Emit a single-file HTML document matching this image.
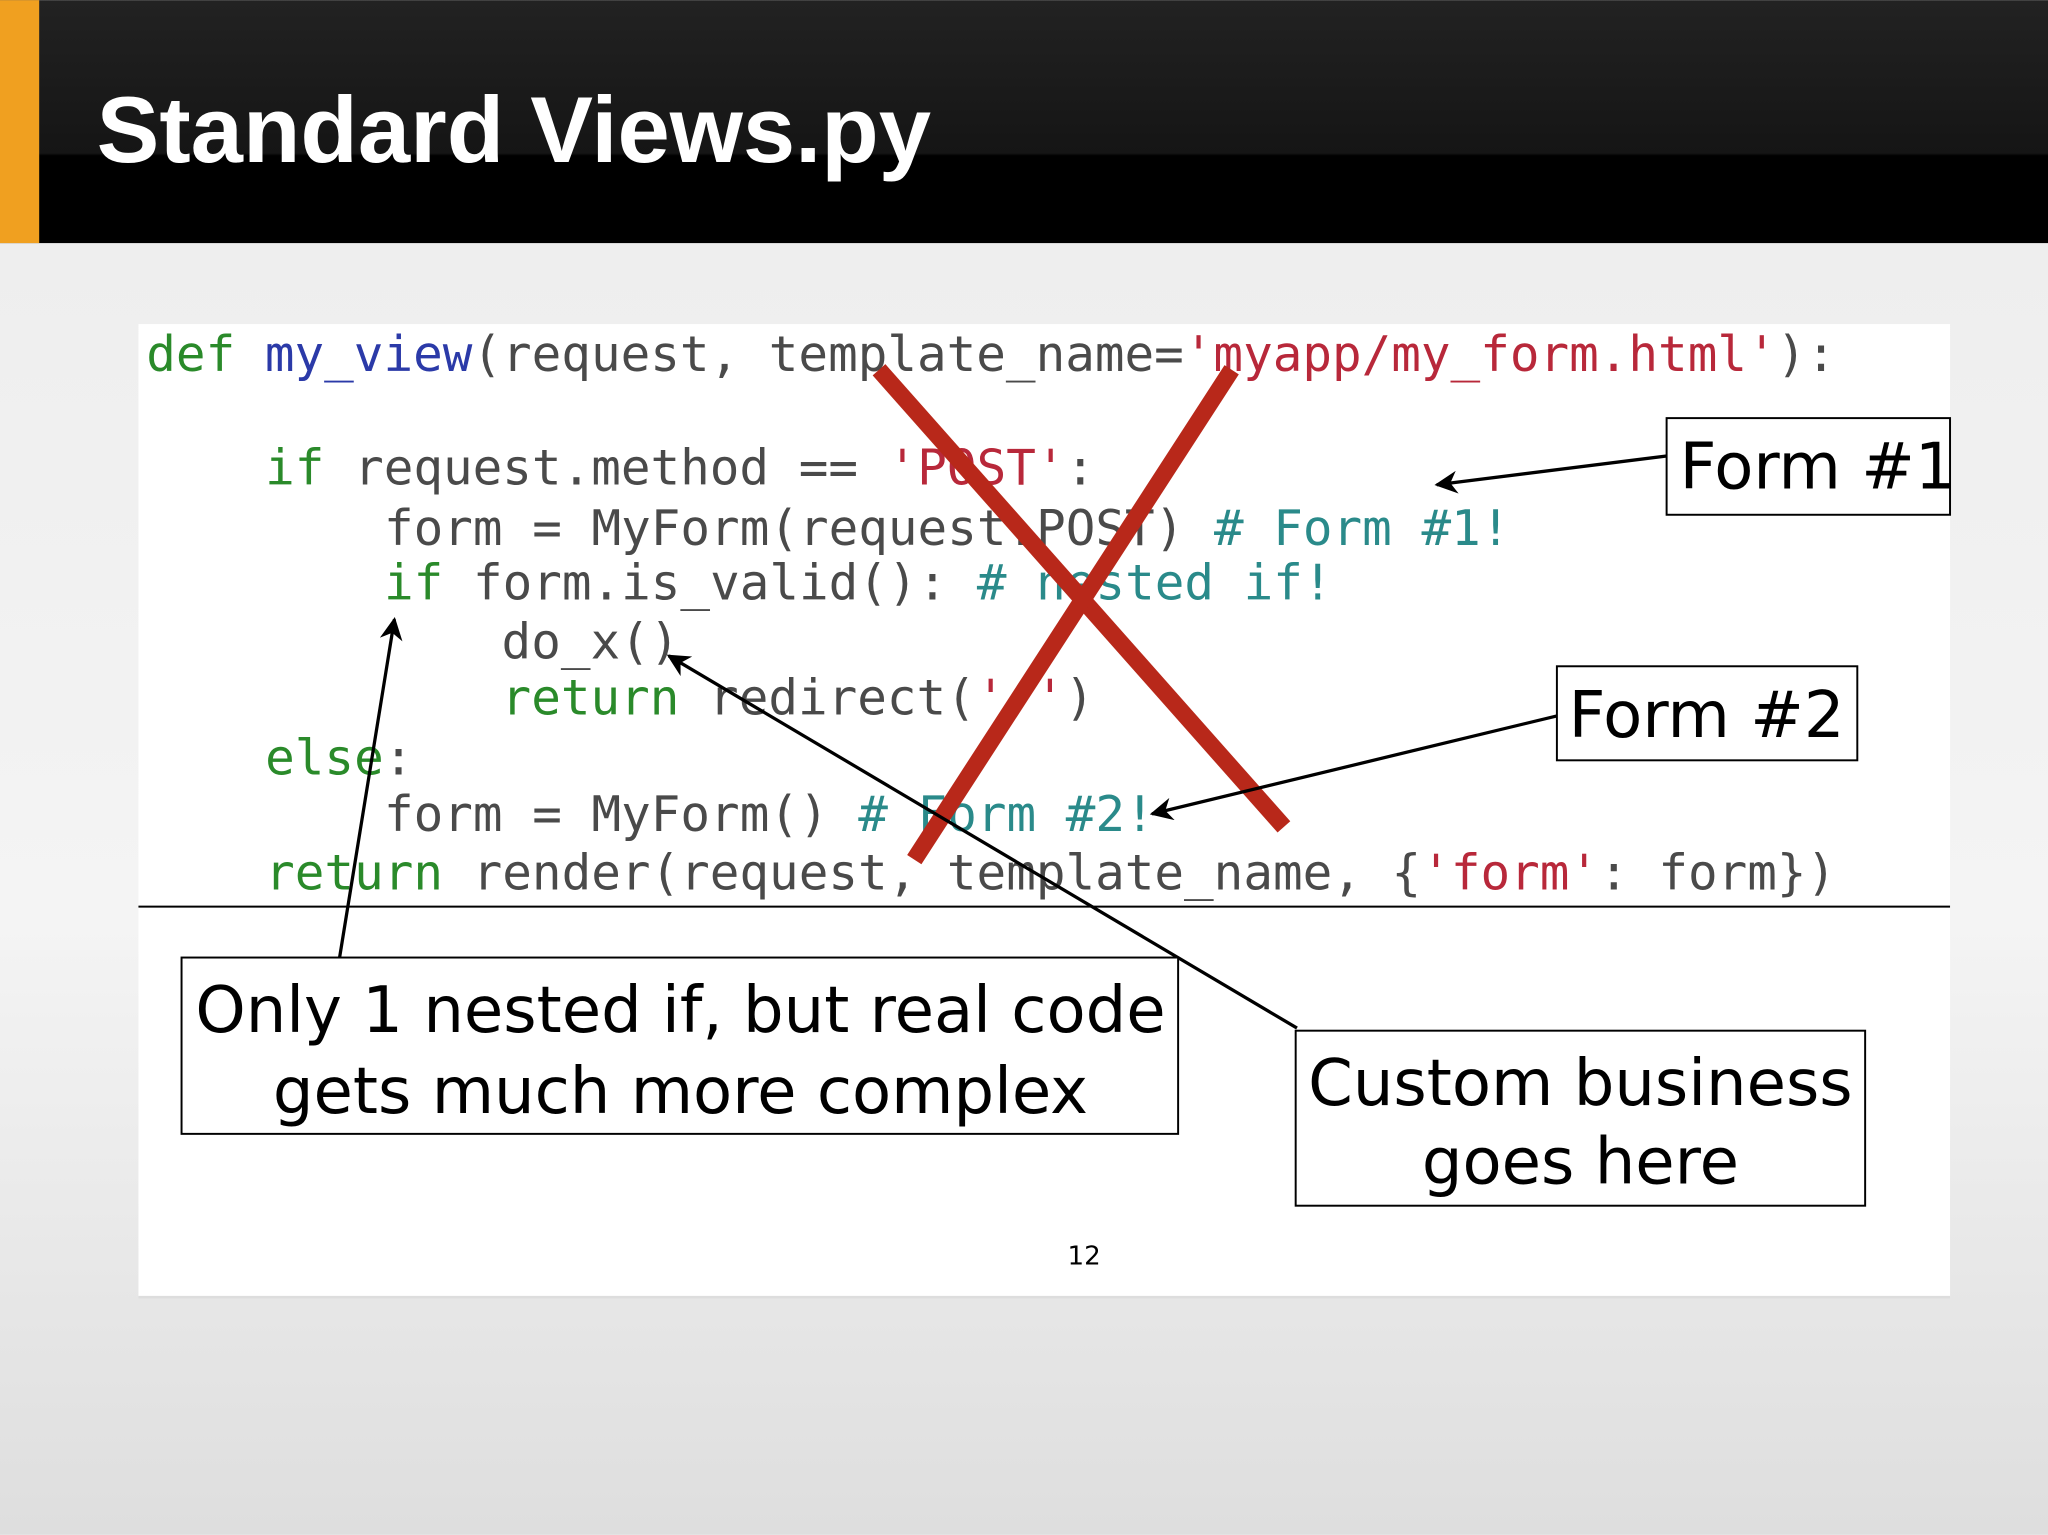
<!DOCTYPE html>
<html><head><meta charset="utf-8"><style>
html,body{margin:0;padding:0;width:2048px;height:1535px;overflow:hidden;}
svg{display:block}
.code{font-family:"DejaVu Sans Mono","Liberation Mono",monospace;font-size:37.7px;fill:#4a4a4a;}
.k{fill:#2a8a2a}.f{fill:#2b3aa8}.s{fill:#b8283a}.c{fill:#2a8a8a}
.lab{font-family:"DejaVu Sans","Liberation Sans",sans-serif;font-size:49px;fill:#000;}
</style></head><body>
<svg width="2048" height="1535" viewBox="0 0 1568 1175" xmlns="http://www.w3.org/2000/svg">
<defs>
<linearGradient id="bg" x1="0" y1="0" x2="0" y2="1">
<stop offset="0" stop-color="#ececec"/><stop offset="0.6" stop-color="#f4f4f4"/><stop offset="1" stop-color="#dedede"/>
</linearGradient>
<linearGradient id="hd" x1="0" y1="0" x2="0" y2="1">
<stop offset="0" stop-color="#222"/><stop offset="0.63" stop-color="#151515"/><stop offset="0.64" stop-color="#000"/><stop offset="1" stop-color="#000"/>
</linearGradient>
<marker id="ah" viewBox="0 0 10 10" refX="9" refY="5" markerWidth="7" markerHeight="7" orient="auto"><path d="M0,0 L10,5 L0,10 L3,5 z" fill="#000"/></marker>
</defs>
<rect x="0" y="0" width="1568" height="1175" fill="url(#bg)"/>
<rect x="0" y="0" width="1568" height="186" fill="url(#hd)"/>
<rect x="0" y="0" width="30" height="186" fill="#f0a020"/>
<text x="74" y="124" font-family="Liberation Sans, sans-serif" font-weight="bold" font-size="72" fill="#fff">Standard Views.py</text>
<rect x="106" y="248" width="1387" height="745" fill="#fff"/>
<line x1="106" y1="993" x2="1493" y2="993" stroke="#ddd" stroke-width="2"/>
<g class="code" xml:space="preserve">
<text x="112" y="284"><tspan class="k">def</tspan> <tspan class="f">my_view</tspan>(request, template_name=<tspan class="s">'myapp/my_form.html'</tspan>):</text>
<text x="203" y="371"><tspan class="k">if</tspan> request.method == <tspan class="s">'POST'</tspan>:</text>
<text x="294" y="417">form = MyForm(request.POST) <tspan class="c"># Form #1!</tspan></text>
<text x="294" y="459"><tspan class="k">if</tspan> form.is_valid(): <tspan class="c"># nested if!</tspan></text>
<text x="384" y="504">do_x()</text>
<text x="384" y="547"><tspan class="k">return</tspan> redirect(<tspan class="s">'/'</tspan>)</text>
<text x="203" y="593"><tspan class="k">else</tspan>:</text>
<text x="294" y="636">form = MyForm() <tspan class="c"># Form #2!</tspan></text>
<text x="203" y="681"><tspan class="k">return</tspan> render(request, template_name, {<tspan class="s">'form'</tspan>: form})</text>
</g>
<line x1="106" y1="694" x2="1493" y2="694" stroke="#000" stroke-width="1.5"/>
<line x1="673" y1="283" x2="983" y2="633" stroke="#b8281a" stroke-width="13"/>
<line x1="943" y1="283" x2="700" y2="658" stroke="#b8281a" stroke-width="13"/>
<g stroke="#000" stroke-width="2.5" fill="none" marker-end="url(#ah)">
<line x1="1276" y1="349" x2="1100" y2="371"/>
<line x1="1192" y1="548" x2="882" y2="623"/>
<line x1="260" y1="733" x2="302" y2="474"/>
<line x1="993" y1="787" x2="512" y2="502"/>
</g>
<g fill="#fff" stroke="#000" stroke-width="1.5">
<rect x="1276" y="320" width="217" height="74"/>
<rect x="1192" y="510" width="230" height="72"/>
<rect x="139" y="733" width="763" height="135"/>
<rect x="992" y="789" width="436" height="134"/>
</g>
<text class="lab" x="1286" y="374">Form #1</text>
<text class="lab" x="1201" y="564">Form #2</text>
<text class="lab" x="521" y="790" text-anchor="middle">Only 1 nested if, but real code</text>
<text class="lab" x="521" y="852" text-anchor="middle">gets much more complex</text>
<text class="lab" x="1210" y="846" text-anchor="middle">Custom business</text>
<text class="lab" x="1210" y="906" text-anchor="middle">goes here</text>
<text x="830" y="968" text-anchor="middle" font-family="DejaVu Sans, sans-serif" font-size="20" fill="#000">12</text>
</svg>
</body></html>
